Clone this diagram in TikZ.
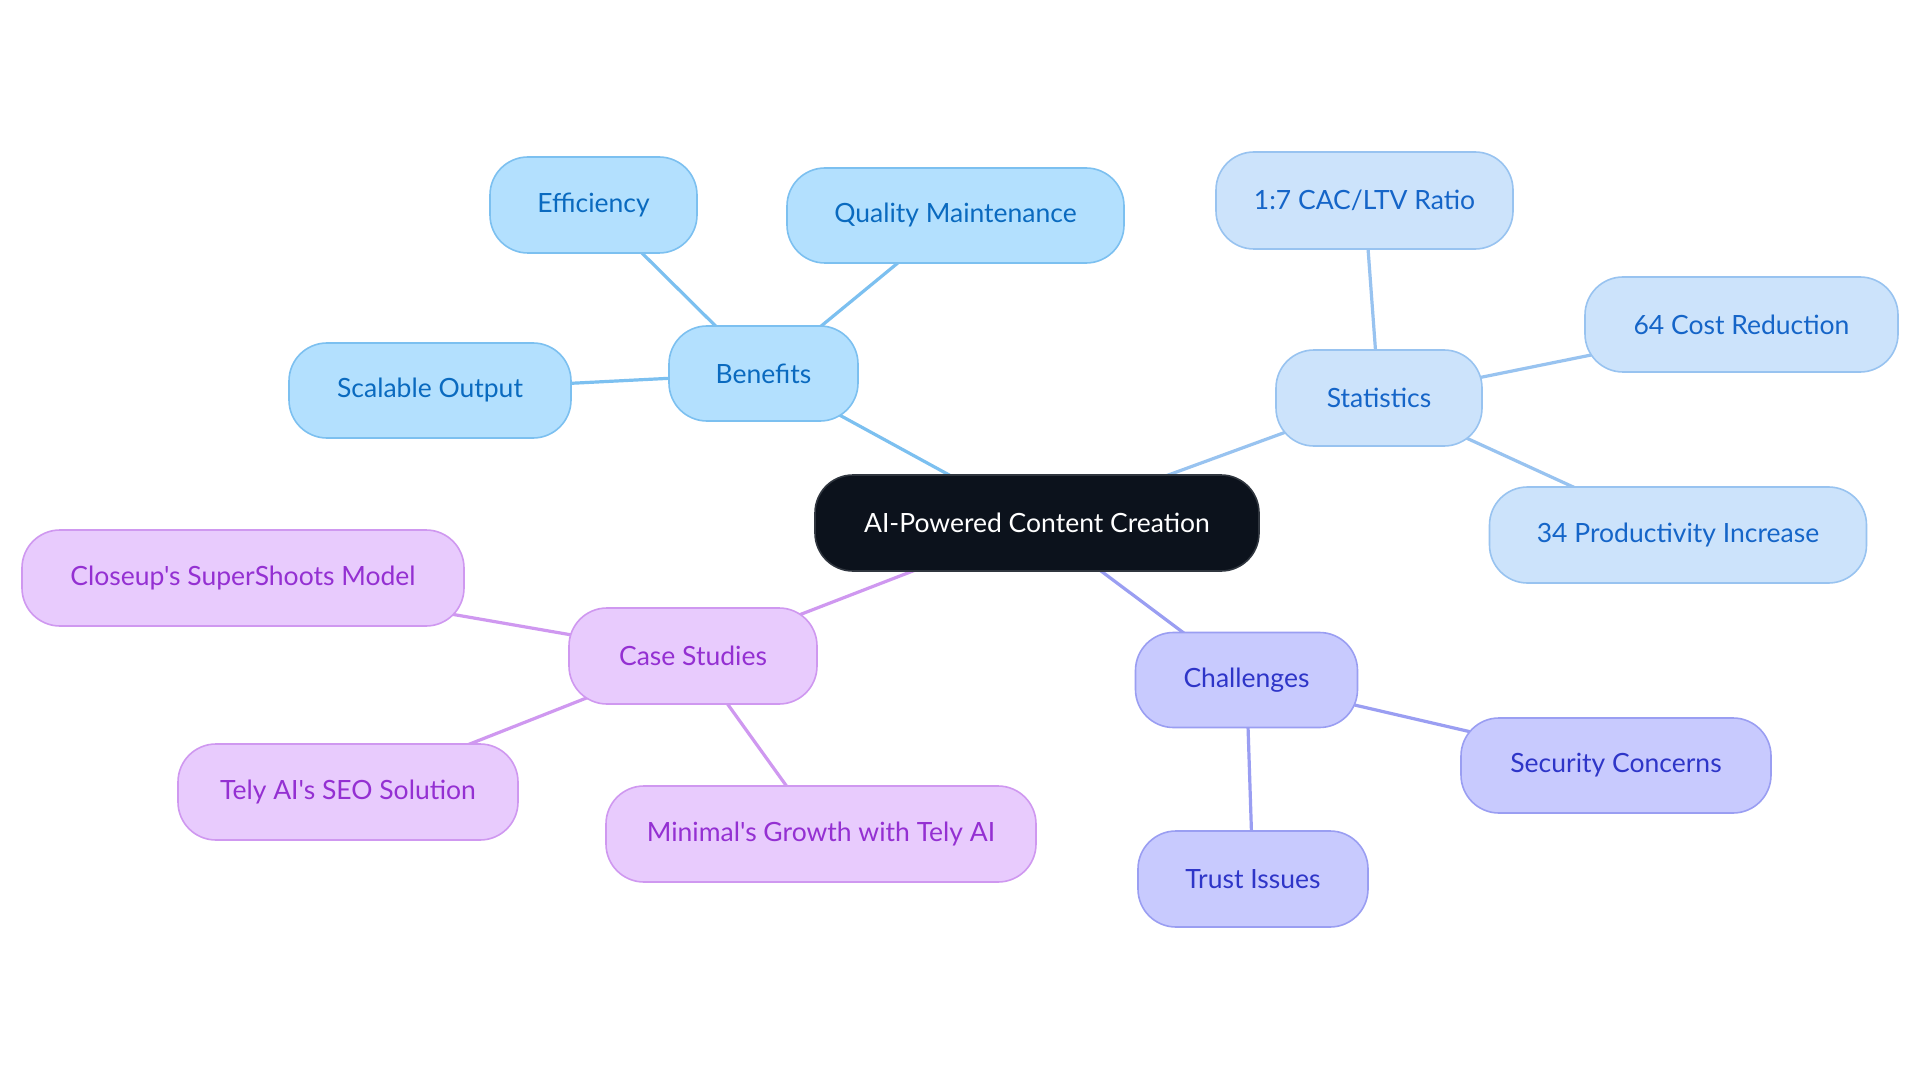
\documentclass[tikz,border=0pt]{standalone}
\usepackage{fontspec}
\setmainfont{Lato}[Ligatures=TeXOff]
\pgfdeclarelayer{bg}
\pgfsetlayers{bg,main}
\begin{document}
\begin{tikzpicture}[x=1pt,y=-1pt,
  box/.style={rounded corners=38pt, line width=1.6pt, inner sep=0pt, align=center, font=\fontsize{26.5}{30}\selectfont},
  ben/.style={box, fill=benF, draw=benD, text=benT},
  sta/.style={box, fill=staF, draw=staD, text=staT},
  cha/.style={box, fill=chaF, draw=chaD, text=chaT},
  cas/.style={box, fill=casF, draw=casD, text=casT},
  root/.style={box, fill=rootF, draw=rootD, text=white},
  ebe/.style={line width=3.2pt, draw=benD},
  est/.style={line width=3.2pt, draw=staD},
  ech/.style={line width=3.2pt, draw=chaD},
  eca/.style={line width=3.2pt, draw=casD}]
\definecolor{benF}{HTML}{B3E0FE}\definecolor{benD}{HTML}{7CC0F0}\definecolor{benT}{HTML}{0A6ABF}
\definecolor{staF}{HTML}{CCE3FB}\definecolor{staD}{HTML}{98C3F0}\definecolor{staT}{HTML}{1565C8}
\definecolor{chaF}{HTML}{C8CAFE}\definecolor{chaD}{HTML}{9A9EF2}\definecolor{chaT}{HTML}{2E35C8}
\definecolor{casF}{HTML}{E8CBFD}\definecolor{casD}{HTML}{CF98F0}\definecolor{casT}{HTML}{9430D2}
\definecolor{rootF}{HTML}{0C121C}\definecolor{rootD}{HTML}{30363F}
\useasboundingbox (0,0) rectangle (1920,1083);
\begin{pgfonlayer}{bg}
\fill[white] (0,0) rectangle (1920,1083);
\end{pgfonlayer}
\node[root, minimum width=444pt, minimum height=96pt] (c) at (1037,523) {AI-Powered Content Creation};
\node[ben, minimum width=189pt, minimum height=95pt] (ben) at (763.5,373.5) {Benefits};
\node[ben, minimum width=207pt, minimum height=96pt] (eff) at (593.5,205) {Efficiency};
\node[ben, minimum width=337pt, minimum height=95pt] (qua) at (955.5,215.5) {Quality Maintenance};
\node[ben, minimum width=282pt, minimum height=95pt] (sca) at (430,390.5) {Scalable Output};
\node[sta, minimum width=206pt, minimum height=96pt] (sta) at (1379,398) {Statistics};
\node[sta, minimum width=297pt, minimum height=97pt] (rat) at (1364.5,200.5) {1:7 CAC/LTV Ratio};
\node[sta, minimum width=313pt, minimum height=95pt] (cos) at (1741.5,324.5) {64 Cost Reduction};
\node[sta, minimum width=377pt, minimum height=96pt] (pro) at (1678,535) {34 Productivity Increase};
\node[cha, minimum width=222pt, minimum height=95pt] (cha) at (1246.5,680) {Challenges};
\node[cha, minimum width=310pt, minimum height=95pt] (sec) at (1616,765.5) {Security Concerns};
\node[cha, minimum width=230pt, minimum height=96pt] (tru) at (1253,879) {Trust Issues};
\node[cas, minimum width=248pt, minimum height=96pt] (cas) at (693,656) {Case Studies};
\node[cas, minimum width=442pt, minimum height=96pt] (clo) at (243,578) {Closeup's SuperShoots Model};
\node[cas, minimum width=340pt, minimum height=96pt] (tel) at (348,792) {Tely AI's SEO Solution};
\node[cas, minimum width=430pt, minimum height=96pt] (min) at (821,834) {Minimal's Growth with Tely AI};
\begin{pgfonlayer}{bg}
\draw[ebe] (c.center) -- (ben.center);
\draw[ebe] (ben.center) -- (eff.center);
\draw[ebe] (ben.center) -- (qua.center);
\draw[ebe] (ben.center) -- (sca.center);
\draw[est] (c.center) -- (sta.center);
\draw[est] (sta.center) -- (rat.center);
\draw[est] (sta.center) -- (cos.center);
\draw[est] (sta.center) -- (pro.center);
\draw[ech] (c.center) -- (cha.center);
\draw[ech] (cha.center) -- (sec.center);
\draw[ech] (cha.center) -- (tru.center);
\draw[eca] (c.center) -- (cas.center);
\draw[eca] (cas.center) -- (clo.center);
\draw[eca] (cas.center) -- (tel.center);
\draw[eca] (cas.center) -- (min.center);
\end{pgfonlayer}
\end{tikzpicture}
\end{document}
